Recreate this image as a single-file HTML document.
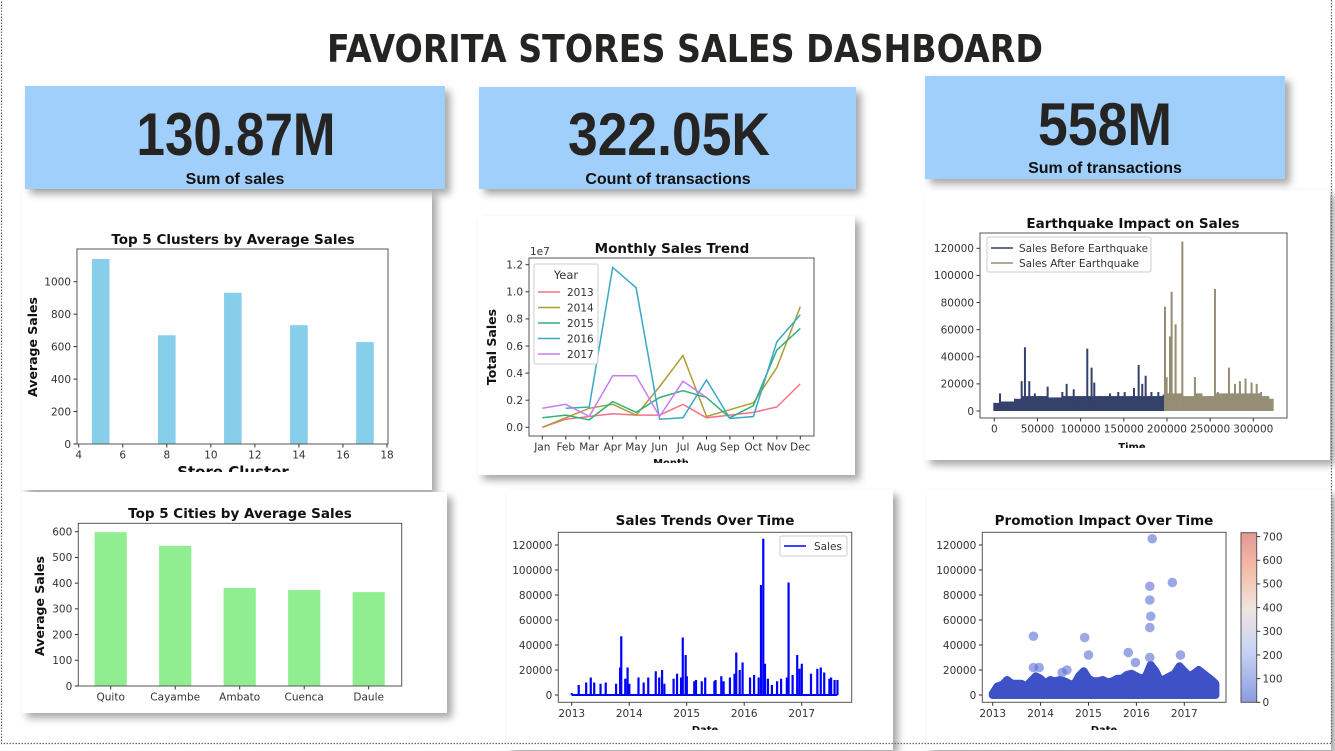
<!DOCTYPE html>
<html><head><meta charset="utf-8">
<style>
html,body{margin:0;padding:0;background:#fff;}
svg{display:block;}
text{font-family:"DejaVu Sans","Liberation Sans",sans-serif;}
.tick{font-size:10.5px;fill:#333;}
.ttl{font-size:13.5px;font-weight:bold;fill:#111;}
.axl{font-size:12.5px;font-weight:bold;fill:#111;}
.kpi{font-family:"Liberation Sans Narrow","Liberation Sans",sans-serif;font-weight:bold;fill:#252423;}
.kpil{font-family:"Liberation Sans",sans-serif;font-weight:bold;font-size:16px;fill:#111;}
</style></head>
<body>
<svg id="dash" width="1335" height="751" viewBox="0 0 1335 751">
<defs>
<filter id="sh" x="-10%" y="-10%" width="130%" height="130%"><feDropShadow dx="5" dy="5" stdDeviation="4" flood-color="#000" flood-opacity="0.35"/></filter>
<linearGradient id="cw" x1="0" y1="1" x2="0" y2="0">
<stop offset="0" stop-color="#8d9be0"/><stop offset="0.3" stop-color="#c7d3f4"/><stop offset="0.55" stop-color="#f0e4de"/><stop offset="0.8" stop-color="#f3baa3"/><stop offset="1" stop-color="#e39797"/>
</linearGradient>
<clipPath id="c1"><rect x="22" y="190" width="410" height="282"/></clipPath>
<clipPath id="c2"><rect x="478" y="216" width="377" height="247"/></clipPath>
<clipPath id="c3"><rect x="925" y="190" width="405" height="258"/></clipPath>
<clipPath id="c5"><rect x="507" y="490" width="386" height="240"/></clipPath>
<clipPath id="c6"><rect x="927" y="490" width="404" height="240"/></clipPath>
</defs>

<g>
<rect x="22" y="190" width="410" height="300" fill="#fff" filter="url(#sh)"/>
<rect x="478" y="216" width="377" height="259" fill="#fff" filter="url(#sh)"/>
<rect x="925" y="190" width="405" height="270" fill="#fff" filter="url(#sh)"/>
<rect x="22" y="492" width="425" height="221" fill="#fff" filter="url(#sh)"/>
<rect x="507" y="490" width="386" height="260" fill="#fff" filter="url(#sh)"/>
<rect x="927" y="490" width="404" height="260" fill="#fff" filter="url(#sh)"/>
</g>
<rect x="1.5" y="-2" width="1330" height="745.5" fill="none" stroke="#666" stroke-width="1.2" stroke-dasharray="1.5,1.5"/>
<text x="685" y="62" text-anchor="middle" font-family="Liberation Sans,sans-serif" font-weight="bold" font-size="38" fill="#252423" textLength="716" lengthAdjust="spacingAndGlyphs">FAVORITA  STORES SALES DASHBOARD</text>

<g>
<rect x="25" y="86" width="420" height="103" fill="#a0cffc" filter="url(#sh)"/>
<text class="kpi" x="236" y="155" text-anchor="middle" font-size="60" textLength="199" lengthAdjust="spacingAndGlyphs">130.87M</text>
<text class="kpil" x="235" y="184" text-anchor="middle">Sum of sales</text>
</g>
<g>
<rect x="479" y="87" width="377" height="102" fill="#a0cffc" filter="url(#sh)"/>
<text class="kpi" x="669" y="155" text-anchor="middle" font-size="60" textLength="202" lengthAdjust="spacingAndGlyphs">322.05K</text>
<text class="kpil" x="668" y="184" text-anchor="middle">Count of transactions</text>
</g>
<g>
<rect x="925" y="76" width="360" height="103" fill="#a0cffc" filter="url(#sh)"/>
<text class="kpi" x="1105" y="145" text-anchor="middle" font-size="60" textLength="134" lengthAdjust="spacingAndGlyphs">558M</text>
<text class="kpil" x="1105" y="173" text-anchor="middle">Sum of transactions</text>
</g>

<text class="ttl" x="233" y="244" text-anchor="middle">Top 5 Clusters by Average Sales</text>
<text class="axl" transform="translate(37,347) rotate(-90)" text-anchor="middle">Average Sales</text>
<g clip-path="url(#c1)"><text x="233" y="477" text-anchor="middle" font-size="15" font-weight="bold" fill="#111">Store Cluster</text></g>

<text class="ttl" x="672" y="253" text-anchor="middle" font-size="14">Monthly Sales Trend</text>
<text class="tick" x="530" y="255">1e7</text>
<text class="axl" transform="translate(496,347) rotate(-90)" text-anchor="middle">Total Sales</text>
<g clip-path="url(#c2)"><text x="671" y="466" text-anchor="middle" font-size="10" font-weight="bold" fill="#111">Month</text></g>

<text class="ttl" x="1133" y="228" text-anchor="middle" font-size="14.5">Earthquake Impact on Sales</text>
<g clip-path="url(#c3)"><text x="1132" y="450" text-anchor="middle" font-size="10" font-weight="bold" fill="#111">Time</text></g>

<text class="ttl" x="240" y="518" text-anchor="middle" font-size="12.5">Top 5 Cities by Average Sales</text>
<text class="axl" transform="translate(44,606) rotate(-90)" text-anchor="middle">Average Sales</text>

<text class="ttl" x="705" y="525" text-anchor="middle" font-size="12.5">Sales Trends Over Time</text>
<g clip-path="url(#c5)"><text x="705" y="733" text-anchor="middle" font-size="10" font-weight="bold" fill="#111">Date</text></g>

<text class="ttl" x="1104" y="525" text-anchor="middle" font-size="12.5">Promotion Impact Over Time</text>
<g clip-path="url(#c6)"><text x="1104" y="733" text-anchor="middle" font-size="10" font-weight="bold" fill="#111">Date</text></g>
<text transform="translate(1249,583) rotate(-90)" text-anchor="middle" font-size="11" fill="#333">Promotion</text>

<g id="charts"></g>
</svg>
<script>
// ---- data ----
const clusterIds = [5, 8, 11, 14, 17];
const clusterSales = [1140, 670, 932, 732, 628];
const clusterXTicks = [4, 6, 8, 10, 12, 14, 16, 18];
const clusterYTicks = [0, 200, 400, 600, 800, 1000];

const months = ["Jan","Feb","Mar","Apr","May","Jun","Jul","Aug","Sep","Oct","Nov","Dec"];
const years = ["2013","2014","2015","2016","2017"];
const sales2013 = [0.0, 0.06, 0.08, 0.10, 0.09, 0.09, 0.17, 0.07, 0.09, 0.11, 0.15, 0.32];
const sales2014 = [0.0, 0.07, 0.14, 0.17, 0.09, 0.30, 0.53, 0.08, 0.13, 0.18, 0.44, 0.89];
const sales2015 = [0.07, 0.09, 0.055, 0.19, 0.11, 0.22, 0.27, 0.22, 0.07, 0.16, 0.57, 0.73];
const sales2016 = [null, 0.14, 0.15, 1.18, 1.03, 0.06, 0.07, 0.35, 0.065, 0.08, 0.63, 0.83];
const sales2017 = [0.14, 0.17, 0.08, 0.38, 0.38, 0.08, 0.34, 0.22, null, null, null, null];
const monthlyYTicks = [0.0, 0.2, 0.4, 0.6, 0.8, 1.0, 1.2];

const eqBeforeIdx = [0, 6600, 14300, 24000, 31700, 35500, 40500, 47000, 53000, 61800, 74000, 78800, 83800, 92000, 97000, 107700, 112700, 115800, 122000, 134000, 143600, 151000, 161800, 167200, 171400, 175300, 182000, 190000, 196000];
const eqBeforeVal = [6000, 13000, 7000, 9000, 22000, 47000, 22000, 13000, 11000, 18000, 10000, 14000, 20000, 16000, 11000, 46000, 32000, 21000, 11000, 13000, 14000, 14000, 17000, 34000, 20000, 26000, 14000, 14000, 12000];
const eqAfterIdx = [197700, 199600, 203500, 205400, 210000, 217800, 224000, 232400, 240000, 251000, 255600, 259000, 271800, 278800, 284500, 291000, 298000, 303900, 309000, 317400, 322400];
const eqAfterVal = [77000, 25000, 55000, 88000, 64000, 125000, 11000, 25000, 13000, 11000, 90000, 14000, 32000, 20000, 22000, 24000, 21000, 20000, 14000, 11000, 9000];
const eqXTicks = [0, 50000, 100000, 150000, 200000, 250000, 300000];
const eqYTicks = [0, 20000, 40000, 60000, 80000, 100000, 120000];

const cities = ["Quito", "Cayambe", "Ambato", "Cuenca", "Daule"];
const citySales = [598, 545, 381, 373, 365];
const cityYTicks = [0, 100, 200, 300, 400, 500, 600];

const trendDates = [2013.0,2013.12,2013.25,2013.33,2013.39,2013.5,2013.59,2013.77,2013.84,2013.86,2013.93,2013.97,2014.0,2014.16,2014.25,2014.33,2014.46,2014.52,2014.57,2014.61,2014.77,2014.83,2014.9,2014.93,2014.98,2015.0,2015.13,2015.16,2015.26,2015.32,2015.48,2015.5,2015.6,2015.64,2015.75,2015.83,2015.86,2015.92,2015.97,2016.1,2016.17,2016.25,2016.29,2016.33,2016.36,2016.41,2016.48,2016.57,2016.64,2016.74,2016.77,2016.84,2016.92,2016.96,2017.0,2017.16,2017.27,2017.33,2017.39,2017.48,2017.51,2017.57,2017.62];
const trendValues = [1500,8000,10000,14000,10000,9000,10000,9000,22000,47000,13000,22000,9000,14000,10000,14000,19000,14000,20000,9000,13000,17000,14000,46000,32000,15000,11000,12000,11000,14000,11000,12000,15000,11000,14000,17000,34000,20000,26000,14000,16000,14000,88000,125000,25000,13000,8000,11000,13000,14000,90000,16000,32000,21000,25000,17000,21000,22000,18000,13000,14000,12000,12000];
const yearTicks = [2013, 2014, 2015, 2016, 2017];
const salesYTicks = [0, 20000, 40000, 60000, 80000, 100000, 120000];

const promoBandDates = [2013.0,2013.1,2013.2,2013.3,2013.4,2013.5,2013.6,2013.7,2013.8,2013.9,2014.0,2014.1,2014.2,2014.3,2014.4,2014.5,2014.6,2014.7,2014.8,2014.9,2015.0,2015.1,2015.2,2015.3,2015.4,2015.5,2015.6,2015.7,2015.8,2015.9,2016.0,2016.1,2016.2,2016.3,2016.4,2016.5,2016.6,2016.7,2016.8,2016.9,2017.0,2017.1,2017.2,2017.3,2017.4,2017.5,2017.6,2017.65];
const promoBandTops = [1000,7000,8000,12000,9000,9000,9000,7000,11000,15000,13000,9000,12000,11000,12000,11000,9000,8000,15000,19000,13000,11000,11000,12000,10000,11000,13000,13000,16000,17000,15000,13000,15000,24000,19000,11000,13000,15000,17000,23000,19000,15000,17000,20000,17000,14000,11000,9000];
const promoOutDates = [2013.85,2013.85,2013.97,2014.45,2014.55,2014.92,2015.0,2015.83,2015.98,2016.28,2016.28,2016.3,2016.28,2016.33,2016.28,2016.75,2016.92];
const promoOutValues = [47000,22000,22000,18000,20000,46000,32000,34000,26000,87000,76000,63000,54000,125000,30000,90000,32000];
const colorbarTicks = [0, 100, 200, 300, 400, 500, 600, 700];

// ---- helpers ----
const NS = "http://www.w3.org/2000/svg";
const root = document.getElementById("charts");
function mk(tag, attrs, parent) {
  const e = document.createElementNS(NS, tag);
  for (const k in attrs) e.setAttribute(k, attrs[k]);
  (parent || root).appendChild(e);
  return e;
}
function lin(d0, d1, r0, r1) { return v => r0 + (v - d0) * (r1 - r0) / (d1 - d0); }
function frame(x0, y0, x1, y1, name) {
  const r = mk("rect", {x: x0, y: y0, width: x1 - x0, height: y1 - y0, fill: "none", stroke: "#555", "stroke-width": 1});
  
  
}
function yTicks(ticks, sy, x0, fmt, name) {
  ticks.forEach(t => {
    const y = sy(t);
    mk("line", {x1: x0 - 3.5, x2: x0, y1: y, y2: y, stroke: "#333"});
    const tx = mk("text", {x: x0 - 6, y: y + 3.8, "text-anchor": "end", class: "tick"});
    tx.textContent = fmt ? fmt(t) : t;
    
    
  });
}
function xTicks(ticks, sx, y0, labels, name) {
  ticks.forEach((t, i) => {
    const x = sx(t);
    mk("line", {x1: x, x2: x, y1: y0, y2: y0 + 3.5, stroke: "#333"});
    const tx = mk("text", {x: x, y: y0 + 14.5, "text-anchor": "middle", class: "tick"});
    tx.textContent = labels ? labels[i] : t;
    
    
  });
}

// ---- chart 1: clusters ----
(function () {
  const sx = lin(4, 18, 78.7, 387), sy = lin(0, 1000, 444, 281.7);
  clusterIds.forEach((c, i) => {
    const b = mk("rect", {x: sx(c - 0.4), y: sy(clusterSales[i]), width: sx(c + 0.4) - sx(c - 0.4), height: sy(0) - sy(clusterSales[i]), fill: "#87ceeb"});
    
    
  });
  frame(77, 249, 388, 444, 'cluster-plot-frame');
  yTicks(clusterYTicks, sy, 77, null, 'cluster-y-tick');
  xTicks(clusterXTicks, sx, 444, null, 'cluster-x-tick');
})();

// ---- chart 2: monthly ----
(function () {
  const sx = lin(0, 11, 542.3, 800.3), sy = lin(0, 1.2, 427.3, 264.7);
  const series = [sales2013, sales2014, sales2015, sales2016, sales2017];
  const cols = ["#f77189", "#ae9d31", "#33b07a", "#38a9c5", "#cc7af4"];
  series.forEach((s, k) => {
    let d = "", pen = false;
    s.forEach((v, i) => {
      if (v === null) { pen = false; return; }
      d += (pen ? "L" : "M") + sx(i).toFixed(1) + "," + sy(v).toFixed(1);
      pen = true;
    });
    const p = mk("path", {d: d, fill: "none", stroke: cols[k], "stroke-width": 1.5});
    
    
  });
  frame(529, 258, 814, 436, 'monthly-plot-frame');
  yTicks(monthlyYTicks, sy, 529, t => t.toFixed(1), 'monthly-y-tick');
  xTicks(months.map((m, i) => i), sx, 436, months, 'monthly-x-tick');
  const lg = mk("g", {});
  
  
  mk("rect", {x: 534, y: 264, width: 64, height: 100, rx: 2, fill: "#fff", "fill-opacity": 0.85, stroke: "#ccc"}, lg);
  const t = mk("text", {x: 566, y: 279, "text-anchor": "middle", "font-size": 11.5, fill: "#333"}, lg);
  t.textContent = "Year";
  years.forEach((y, k) => {
    const yy = 292 + k * 15.5;
    mk("line", {x1: 538, x2: 560, y1: yy, y2: yy, stroke: cols[k], "stroke-width": 1.5}, lg);
    const e = mk("text", {x: 567, y: yy + 4, "font-size": 10.5, fill: "#333"}, lg);
    e.textContent = y;
    
    
  });
})();

// ---- spike drawing helper ----
function spikes(idx, val, sx, sy, col, cap, name) {
  const g = mk("g", {});
  
  
  for (let i = 0; i < idx.length - 1; i++) {
    const h = Math.min(val[i], val[i + 1], cap);
    mk("rect", {x: sx(idx[i]), y: sy(h), width: Math.max(0.5, sx(idx[i + 1]) - sx(idx[i])), height: sy(0) - sy(h), fill: col}, g);
  }
  idx.forEach((d, i) => {
    const s = mk("rect", {x: sx(d) - 1, y: sy(val[i]), width: 2, height: sy(0) - sy(val[i]), fill: col}, g);
    
    
  });
}

// ---- chart 3: earthquake ----
(function () {
  const sx = lin(0, 300000, 994.3, 1253.3), sy = lin(0, 120000, 411, 248.3);
  spikes(eqBeforeIdx, eqBeforeVal, sx, sy, "#34416b", 11000, 'sales-before-earthquake');
  spikes(eqAfterIdx, eqAfterVal, sx, sy, "#958d74", 13000, 'sales-after-earthquake');
  frame(980, 233, 1287, 418, 'earthquake-plot-frame');
  yTicks(eqYTicks, sy, 980, null, 'earthquake-y-tick');
  xTicks(eqXTicks, sx, 418, null, 'earthquake-x-tick');
  const lg = mk("g", {});
  
  
  mk("rect", {x: 987, y: 237, width: 164, height: 35, rx: 2, fill: "#fff", "fill-opacity": 0.85, stroke: "#ccc"}, lg);
  [["Sales Before Earthquake", "#34416b"], ["Sales After Earthquake", "#958d74"]].forEach((e, k) => {
    const yy = 248 + k * 15;
    mk("line", {x1: 991, x2: 1013, y1: yy, y2: yy, stroke: e[1], "stroke-width": 1.5}, lg);
    const t = mk("text", {x: 1019, y: yy + 4, "font-size": 10.5, fill: "#333"}, lg);
    t.textContent = e[0];
    
    
  });
})();

// ---- chart 4: cities ----
(function () {
  const sx = lin(0, 4, 110.7, 368.7), sy = lin(0, 600, 686, 531.7);
  cities.forEach((c, i) => {
    const b = mk("rect", {x: sx(i) - 16.1, y: sy(citySales[i]), width: 32.2, height: sy(0) - sy(citySales[i]), fill: "#90ee90"});
    
    
  });
  frame(78.3, 523.3, 401.7, 686, 'cities-plot-frame');
  yTicks(cityYTicks, sy, 78.3, null, 'cities-y-tick');
  xTicks(cities.map((c, i) => i), sx, 686, cities, 'cities-x-tick');
})();

// ---- chart 5: trends ----
(function () {
  const sx = lin(2013, 2017, 571.7, 801.7), sy = lin(0, 120000, 695, 545);
  mk("line", {x1: sx(trendDates[0]), x2: sx(trendDates[trendDates.length - 1]), y1: sy(0), y2: sy(0), stroke: "#0000ff", "stroke-width": 2});
  trendDates.forEach((d, i) => {
    const s = mk("rect", {x: sx(d) - 1, y: sy(trendValues[i]), width: 2.2, height: sy(0) - sy(trendValues[i]), fill: "#0000ff"});
    
    
  });
  frame(558.3, 532.3, 851.7, 702.3, 'trends-plot-frame');
  yTicks(salesYTicks, sy, 558.3, null, 'trends-y-tick');
  xTicks(yearTicks, sx, 702.3, null, 'trends-x-tick');
  const lg = mk("g", {});
  
  
  mk("rect", {x: 780, y: 536, width: 67, height: 20, rx: 2, fill: "#fff", stroke: "#ccc"}, lg);
  mk("line", {x1: 784, x2: 806, y1: 546, y2: 546, stroke: "#0000ff", "stroke-width": 1.5}, lg);
  const t = mk("text", {x: 814, y: 550, "font-size": 10.5, fill: "#333"}, lg);
  t.textContent = "Sales";
})();

// ---- chart 6: promotion ----
(function () {
  const sx = lin(2013, 2017, 992.7, 1184.3), sy = lin(0, 120000, 695, 545);
  let d = "M" + sx(promoBandDates[0]) + "," + sy(0);
  promoBandDates.forEach((dt, i) => { d += "L" + sx(dt).toFixed(1) + "," + sy(promoBandTops[i]).toFixed(1); });
  d += "L" + sx(promoBandDates[promoBandDates.length - 1]) + "," + sy(0) + "Z";
  const band = mk("path", {d: d, fill: "#3f51c6", stroke: "#3f51c6", "stroke-width": 8, "stroke-linejoin": "round"});
  
  
  promoOutDates.forEach((dt, i) => {
    const c = mk("circle", {cx: sx(dt), cy: sy(promoOutValues[i]), r: 4.8, fill: "#5a6ed6", "fill-opacity": 0.6});
    
    
  });
  frame(982.3, 532.3, 1226, 702.3, 'promotion-plot-frame');
  yTicks(salesYTicks, sy, 982.3, null, 'promotion-y-tick');
  xTicks(yearTicks, sx, 702.3, null, 'promotion-x-tick');
  const cy = lin(0, 700, 702.3, 536.6);
  const cb = mk("rect", {x: 1241, y: 532.7, width: 15.7, height: 169.6, fill: "url(#cw)", stroke: "#555"});
  
  
  colorbarTicks.forEach(t => {
    const y = cy(t);
    mk("line", {x1: 1256.7, x2: 1260.2, y1: y, y2: y, stroke: "#333"});
    const tx = mk("text", {x: 1262.5, y: y + 3.8, class: "tick"});
    tx.textContent = t;
    
    
  });
})();
</script>
</body></html>
